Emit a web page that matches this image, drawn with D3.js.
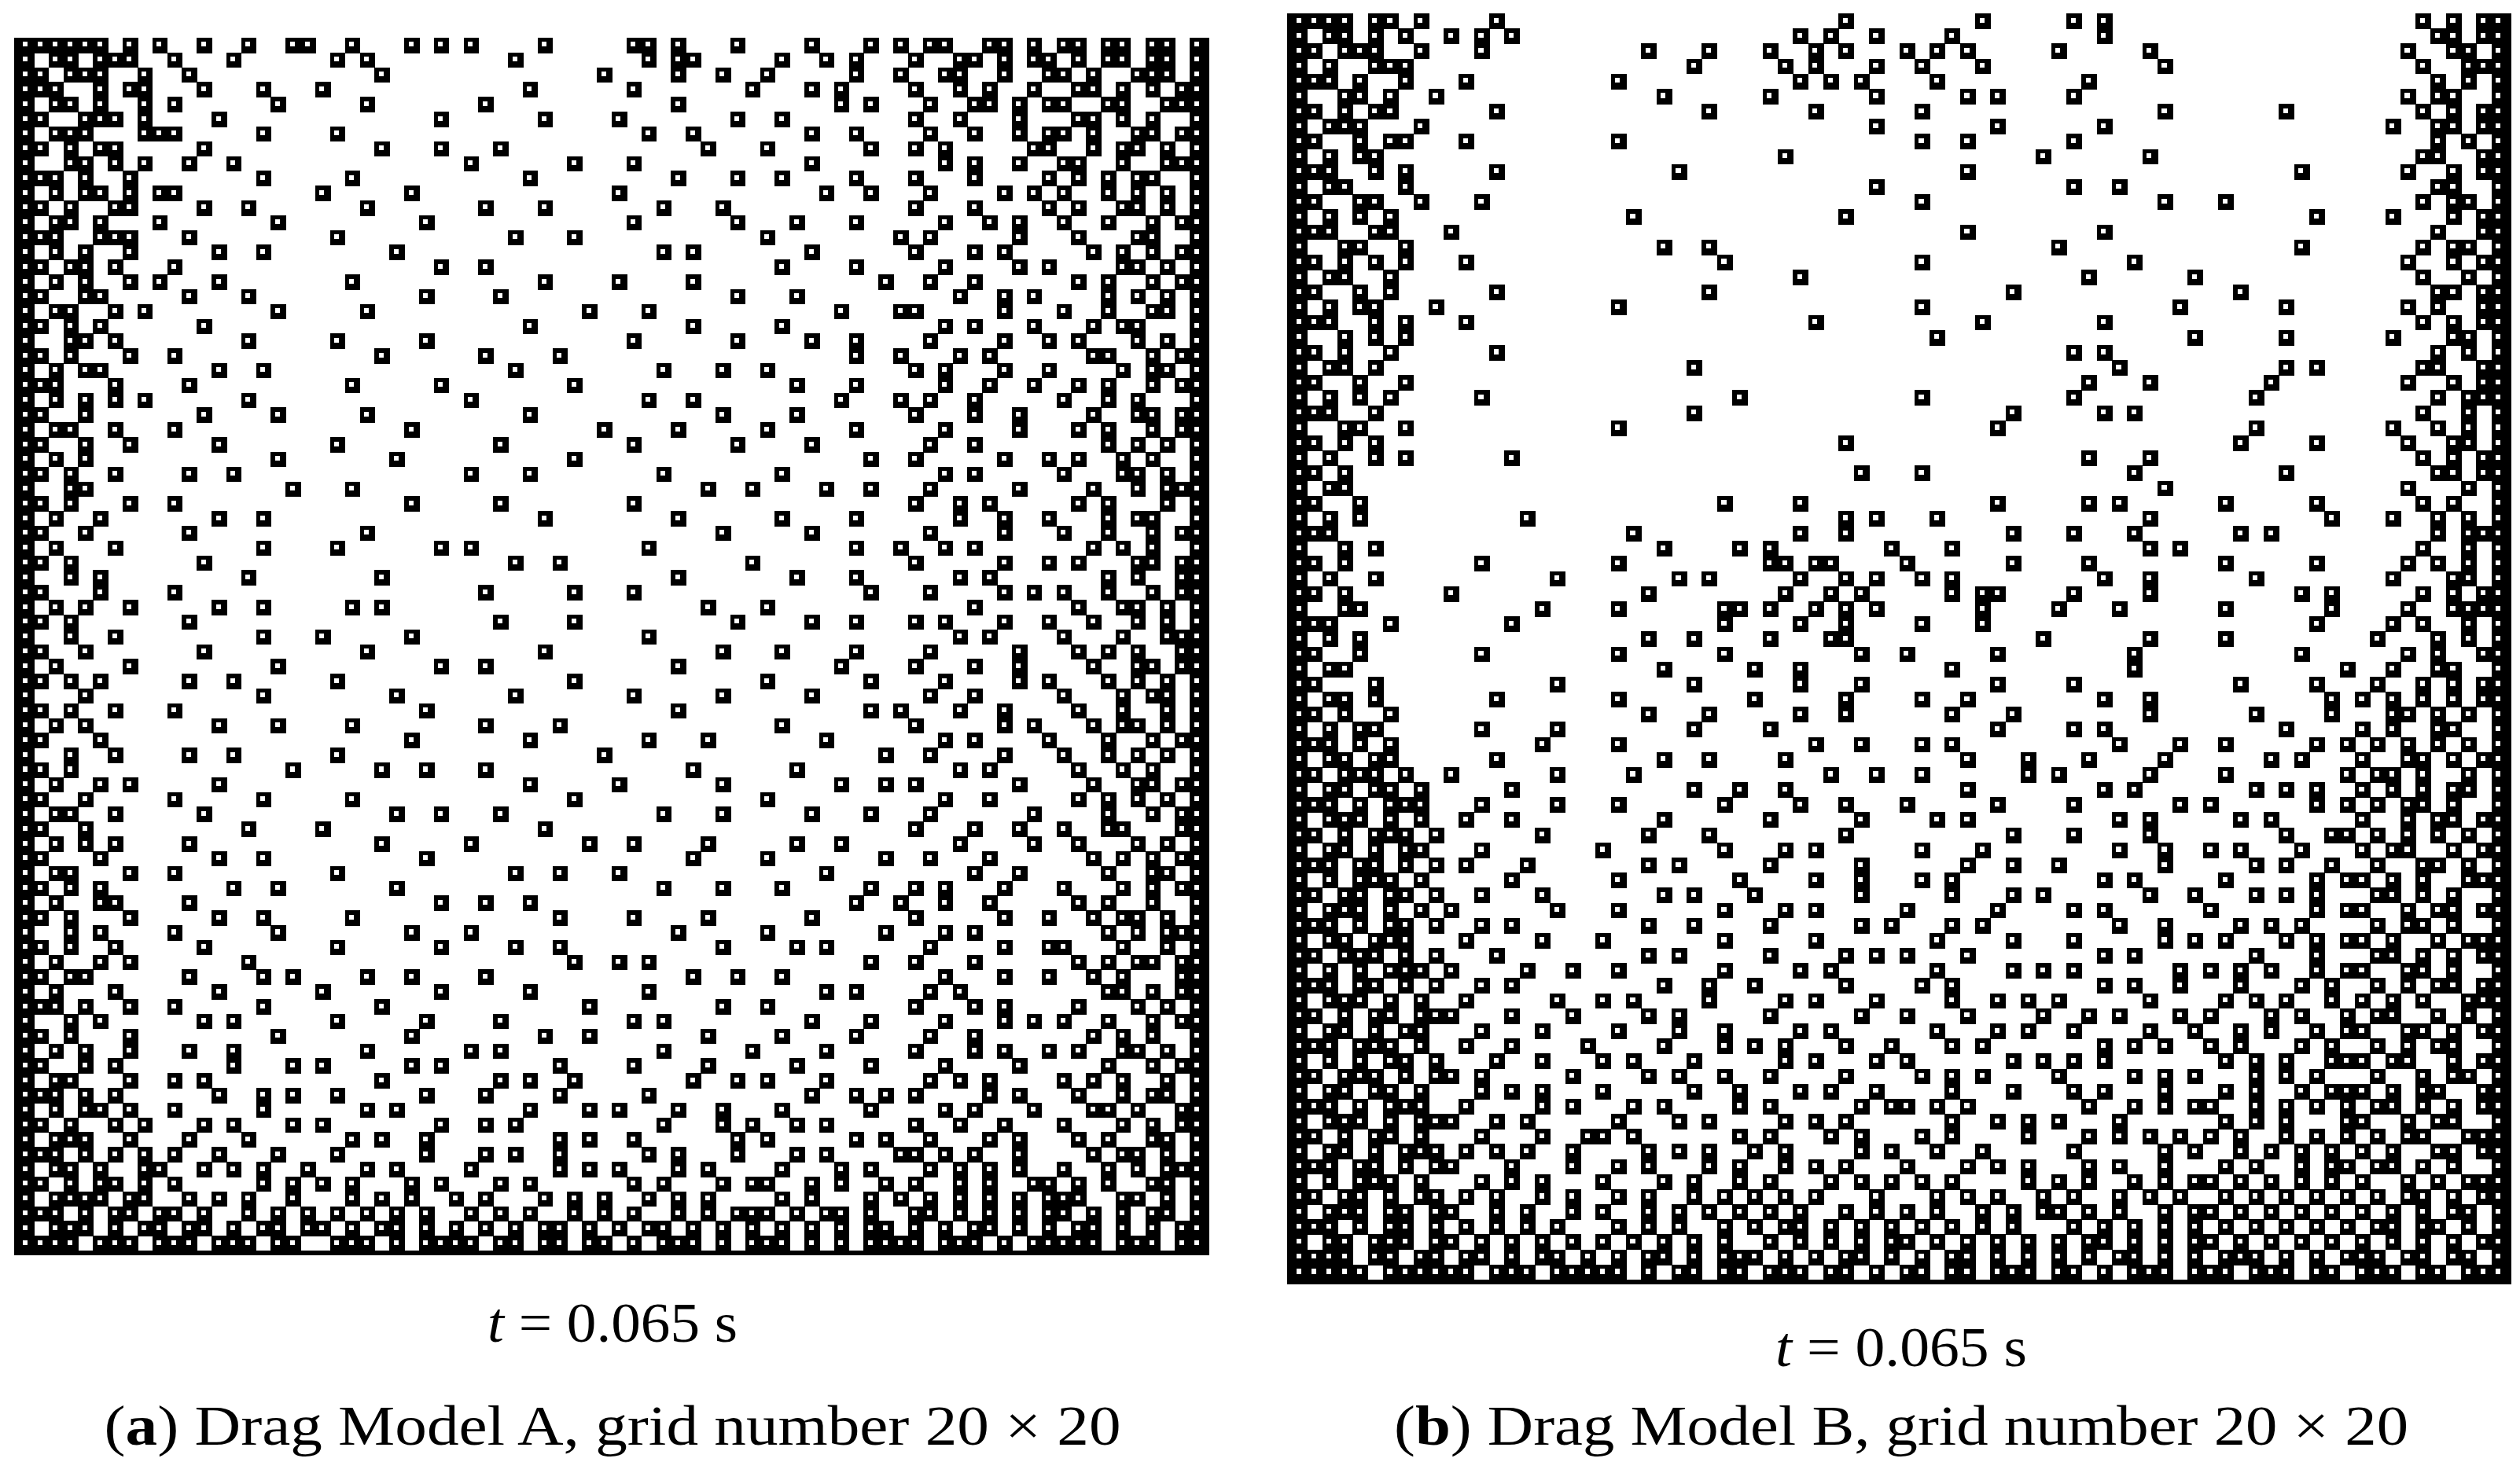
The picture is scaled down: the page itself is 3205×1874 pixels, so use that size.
<!DOCTYPE html>
<html>
<head>
<meta charset="utf-8">
<script src="https://cdnjs.cloudflare.com/ajax/libs/d3/7.8.5/d3.min.js"></script>
<style>
  html, body { margin: 0; padding: 0; background: #fff; }
  svg text { font-family: "Liberation Serif", "DejaVu Serif", serif; fill: #000; }
</style>
</head>
<body>
<div id="chart"></div>
<script>
// particle occupancy maps: 'o' = particle, '.' = empty
// each row is one layer of cells, top to bottom; spaces only group columns by ten
const particlesA = [
"oooooo.o.o ..o..o..oo ..o...o.o. o....o.... .oo.o...o. ...o...o.o .oo..oo.o. oo.oo.oo.o",
"o.oo.ooo.. o...o..... .o.o...... ...o...... ..o.oo.... .o..o.o... o..oo.o.oo .o.oo.oo.o",
"oo.ooo..o. .o........ ....o..... .........o ....o..o.. o.....o..o ..oo..o..o o.o..ooo.o",
"ooo..o.oo. ..o...o... o......... ....o..... .o.......o ...o.o.... o..o.o..o. .oo.o.o.oo",
"o.oo.o..o. o......o.. ...o...... .o........ ....o..... .....o.o.. .o..oo.o.o o..oo..ooo",
"oo..ooo.o. ...o...... ........o. .....o.... o.......o. .o........ o..o...o.. .oo.o.o..o",
"o.ooo...oo o.....o... .o........ .......... ..o..o.... ...o..o... .o..o..o.o o.o..oo.oo",
"oo.o.oo... ..o....... ....o...o. ..o....... ......o... o......o.. o.o.....oo ..o.oo.o.o",
"o..oo.o.o. .o..o..... .......... o......o.. .o........ ...o...... ..o.o..o.. oo..o..ooo",
"ooo.o..o.. ......o... ..o....... ....o..... ....o...o. .o....o... o...o....o .o.o.oo..o",
"o.o.oo.o.o o......... o.....o... .......... o......... ....o..o.. .o....o.o. o..o.o.o.o",
"oo.o..oo.. ..o..o.... ...o...... .o...o.... ...o...o.. .......... o...o....o .o..oo.o.o",
"o.oo.o...o .......o.. .......o.. .......... .o......o. ..o...o... ..o..o.o.. o..o..o.oo",
"ooo..ooo.. .o........ .o........ ...o...o.. .......... o........o .o.....o.. .o...oo..o",
"o.o.o..o.. ...o..o... .....o.... .......... ...o.o.... ...o...... o...o.o... ..o.o.o.oo",
"oo.oo.o... o......... ........o. .o........ .......... .o....o... ..o....o.o ....oo.o.o",
"o.o.o..o.o ...o...... ..o....... .....o.... o....o.... ........o. .o..o..... .o.o..o.oo",
"oo..oo.... .o...o.... .......o.. ..o....... ........o. ..o....... ...o..o.o. ...o.o.o.o",
"o.oo..o.o. .......o.. ...o...... ........o. ..o....... .....o...o o.....o... o..o..oo.o",
"oo.o.o.... ..o....... .......... ....o..... .....o.... .o........ ..o.o...o. ..o.oo...o",
"o..oo.o... .....o.... .o.....o.. .......... .o......o. ...o..o... .o....o..o .o...o.o.o",
"oo.o...o.. o......... ....o..... .o....o... .......... ......o..o ...o.o.... ..oo..o.oo",
"o.o.oo.... ...o..o... .......... ...o...... ...o...o.. o......... o.o...o..o ....o.oo.o",
"ooo...o... .o........ ..o.....o. .......o.. .......... ..o...o... ..o..o..o. .o.o..o.oo",
"o.o.o.o.o. .....o.... .......... o......... ..o..o.... .....o...o .o..o..... o..o.o...o",
"oo..o..... ..o....o.. ...o...... ....o..... .......o.. ..o....... o...o..o.. ..o..oo.oo",
"o.oo..o... o......... ......o... .........o ....o..... o.....o... ..o....o.. .o.o..o.oo",
"oo..o..o.. ...o...... .o........ ..o....... .o......o. ...o...... .o..o..... ...o.o.o.o",
"o.o.o..... .......o.. .....o.... .......o.. .......... .......o.. o.....o..o .o..o.o..o",
"oo.o..o... .o..o..... .......... o...o..... ...o...... .o........ ..o.o..... o...oo.o.o",
"o..oo..... ........o. ..o....... .......... ......o..o ....o..o.. .o.....o.. ..o..o.ooo",
"oo.o...o.. o......... ......o... ..o....... .o........ .......... o..o.o.... .o.o...o.o",
"o.o..o.... ...o..o... .......... .....o.... ....o..... .o....o... ...o..o..o ...o.oo..o",
"oo..o..... .o........ ...o...... .......... .......o.. ...o...... .o....o... o..o..o.oo",
"o.o...o... ......o... .o......o. o......... ..o....... ......o..o ..o.o..... ..o.o.o..o",
"oo.o...... ..o....... .......... ...o..o... .........o .......... o.....o..o .o...oo.oo",
"o..o.o.... .....o.... ....o..... .......... ....o..... ..o...o... ...o.o.... ...o.o..oo",
"oo...o.... o......... .......... .o.....o.. .o........ .......o.. .o....o.o. o..o..o.oo",
"o.o.o..o.. ...o..o... ..o.o..... .......... ......o... o......... ....o..... .o..oo.o.o",
"oo.o...... .o........ .......... ..o....o.. ........o. ...o..o... o.o...o..o ..o..o.o.o",
"o..o..o... ......o... o.....o... .......... ..o....... .......... ...o.o.... o...o..ooo",
"oo..o..... ..o....... ...o...... .....o.... .......o.. .o....o... .o.....o.. .o.o.o..oo",
"o.o....o.. .......o.. ........o. .o........ ....o..... .....o.... o...o..o.. ..o..oo.oo",
"oo.o.o.... .o..o..... .o........ .......o.. .......... o......o.. ..o....o.o ...o.o.o.o",
"o...o..... ......o... .....o.... ...o...... .o.....o.. ...o...... .o..o..... o...o.oo.o",
"oo.o..o... o......... .......o.. .......... ....o..... .......o.o ...o..o... .o..o..o.o",
"o.o.o..... ...o...o.. ..o....... .o....o... .......... .o........ o.....o.o. ..o.oo.o.o",
"oo...o.... .......... ......o... ....o..... ..o...o... ....o..... ..o.o....o ...o..o.oo",
"o..o..o... .o..o..... .o........ .........o .......... ........o. .o....o... o..o.o.o.o",
"oo.o...... ........o. ....o..o.. .o........ .....o.... ..o....... ...o.o.... .o..o.o..o",
"o.o..o.o.. ...o...... .......... ....o..... o......o.. .....o..o. o......o.. ..o..oo.oo",
"oo..o..... o.....o... ..o....... .......o.. .......... o......... ..o..o.... .o.o.o.o.o",
"o.oo..o... ..o....... .....o..o. ..o....... ...o...o.. ...o...o.. .o......o. ...o..o.oo",
"oo..o..... .....o.... o......... .....o.... .......... .......... o...o..o.. o..oo...oo",
"o.o.o.o... .o........ ....o..... o.......o. .o....o... ..o..o.... ...o....o. .o...o.o.o",
"oo...o.... ...o..o... .......o.. .......... .....o.... o.......o. .o...o.... ..o.o.o.oo",
"o.oo...o.. o......... .o........ ...o..o... o......... ....o..... ....o..o.. ...o..oo.o",
"oo.o.o.... ....o..o.. .....o.... .......... ...o...o.. .o.....o.. o.o...o... o...o.o.oo",
"o.o..oo... .o........ ........o. .o..o..... .......... ......o..o ..o..o.... .o.o..o..o",
"oo.o...o.. ...o..o... ..o....... ......o... .o....o... ...o...... o.....o..o ..o.oo.o.o",
"o..o.o.... o......o.. ......o... o......... ....o..... o.......o. ..o.o..... ...o.o.ooo",
"oo.o..o... ..o....... .o......o. ...o..o... .......o.. ..o.o..... .o....o..o o...o..o.o",
"o.o..o.o.. .....o.... .......... .......o.. o.o....... .......o.. o...o..... .o.o.oo.oo",
"oo.oo..... .o....o.o. ...o..o... .o........ .....o..o. .o........ ..o...o..o ..o.o...oo",
"o.o...o... ...o...... o.......o. ....o..... ..o....... ....o.o... .o.o...... ...oo.o.oo",
"ooo.o..o.. o.....o... ....o..... ........o. .......o.. o......... o...o.o... .o...o.o.o",
"o..o.o.... ..o.o..... .o.....o.. ..o....... .o.o...... ...o...o.. ..o...o.o. o..o..o.oo",
"oo.o...o.. .......o.. ......o... .....o..o. ......o... .o....o... .o..o..... ..o.o.o..o",
"o.o.o..o.. .o..o..... ...o...... o.o....... ...o.....o ....o..... o...o.o..o .o..oo.o.o",
"oo..o.o... ....o...o. o.....o.o. ......o... .o....o... ..o....o.. ..o....o.. ...o..o.oo",
"o.oo...o.. o.o....... ....o..... ..o.o..o.. .....o..o. o...o..... .o.o.o.... o.o.o..o.o",
"ooo.o.o... ...o..o.o. .o.....o.. .o....o... ..o....... ...o..o.o. o....o.o.. .o..o.oo.o",
"o.o.oo.o.. o.....o... ...o.o.... ....o...o. o...o..o.. .o.....o.. ..o.o...o. ..oo.o..oo",
"oo.o..o.o. ..o.o...o. o.......o. .o.o...... ...o...o.o ..o.o..... o..o..o... o...o.o.oo",
"o.ooo..o.. .o...o.... ..o.o..o.. ......o.o. .o......o. o.....o.o. .o...o.o.. .o.o..oo.o",
"ooo.o.o.o. o..o...o.. .o.....o.. .o.o..o... ..o.o...o. ..o.o....o o.o.o..o.. ..o.oo.o.o",
"o.oo.o..oo ..o.o.o..o ...o.o.... o.....o.o. o...o.o... .o...o.o.. .o.o.o.o.. o..o.o.ooo",
"oo.o.oo.o. o.....o.o. o.o...o.o. ..o.o..... .o.o...o.o o..o.o..o. o..o.o..oo .o.o..oo.o",
"o.oooo.oo. .o.o.o..o. ..o.o.o..o .o...o.o.o ..o.o.o... .o.o...o.o .o.o.o.o.o oo..oo.o.o",
"ooo.o.oo.o o.o..o.o.o .o.o.o.o.. o.o.o..o.o .o..o.o.oo o.o.oo.o.. oo.o.o.o.o o.o.o.oo.o",
"o.ooo.o.oo .oo.o.oo.o o.o.oo.o.o .o.o.oo.o. o.oo.o.o.o .o.o.o.oo. o.o.oo.o.o .oo.o.o.oo",
"oooo.ooo.o oo.ooo.oo. .ooo.o.ooo o.oo.oo.oo .o.ooo.o.o oo.o.o.ooo o.ooo.o.oo ooo.ooo.oo"
];

const particlesB = [
"oooo.oo.o. ...o...... .......... ......o... .....o.... .o.o...... .......... ....o.o.oo",
"o.oo.o.o.. o.o.o..... .......... ...o.o..o. ...o...... ...o...... .......... .....oo.oo",
"oo.ooo..o. ..o....... ...o...o.. .o..o.o... o.o.o..... o.....o... .......... ...o..oo.o",
"o.o..ooo.. .......... ......o... ..o.o...o. .o...o.... .......o.. .......... ....o..ooo",
"ooo.o..o.. .o........ .o........ ...o.o.o.. ..o....... ..o....... .......... .....o.o.o",
"o..oo.o..o .......... ....o..... .o......o. ....o.o... .o........ .......... ...o.oo..o",
"oo.o.oo... ...o...... .......o.. ....o..... .o........ .......o.. .....o.... ....o.o.oo",
"o.ooo...o. .......... .......... ........o. ......o... ...o...... .......... ..o..oo.oo",
"oo..o.oo.. .o........ .o........ .......... .o..o..... .o........ .......... .....o.o.o",
"o.o.oo.... .......... .......... ..o....... .........o ......o... .......... ....oo..oo",
"ooo..o.o.. ...o...... .....o.... .......... ....o..... .......... ......o... ...o..o.oo",
"o.oo...o.. .......... .......... ........o. .......... .o..o..... .......... .....oo..o",
"oo..oo..o. ..o....... .......... .......... .o........ .......o.. .o........ ....o.oo.o",
"o.o.o.o... .......... ..o....... ......o... .......... .......... .......o.. ..o...o.oo",
"ooo..oo... o......... .......... .......... ....o..... ...o...... .......... .....o..oo",
"o..oo..o.. .......... ....o..o.. .......... .......... o......... ......o... ....o.oo.o",
"oo.o.o.o.. .o........ ........o. .......... .o........ .....o.... .......... ...o..o.oo",
"o.oo..o... .......... .......... ...o...... .......... ..o......o .......... ....o..o.o",
"oo..o.o... ...o...... .......o.. .......... .......o.. .......... ..o....... .....oo.oo",
"o.o.oo...o .......... .o........ .......... .o........ ........o. .....o.... ...o.o..oo",
"ooo..o.o.. .o........ .......... ....o..... .....o.... ...o...... .......... ....o.o.oo",
"o..o.o.o.. .......... .......... .......... ..o....... .........o .....o.... ..o...oo.o",
"oo.o..o... ...o...... .......... .......... .......... .o.o...... .......... .....o.o.o",
"o.oo.o.... .......... ......o... .......... .......... ....o..... .....o.o.. ....oo..oo",
"oo..o..o.. .......... .......... .......... .......... ..o...o... ....o..... ...o..o.oo",
"o.o.o.o... ..o....... .........o .......... .o........ .o........ ...o...... .....o.ooo",
"ooo..o.... .......... ......o... .......... .......o.. ...o.o.... .......... ....o..o.o",
"o..oo..o.. .......... .o........ .......... ......o... .......... ...o...... ..o..o.o.o",
"oo.o.o.... .......... .......... ......o... .......... .......... ..o....o.. ...o..oo.o",
"o.o..o.o.. ....o..... .......... .......... .......... ..o...o... .......... ....o.o.oo",
"oo.o...... .......... .......... .......o.. .o........ .....o.... .....o.... .....oo.oo",
"o.oo...... .......... .......... .......... .......... .......o.. .......... ...o...o.o",
"oo..o..... .......... ........o. ...o...... ......o... ..o.o..... .o.....o.. ....o.o..o",
"o.o.o..... .....o.... .......... ......o.o. ..o....... ......o... ........o. ..o..o.o.o",
"ooo....... .......... ..o....... ...o..o... .......o.. .o...o.... ..o.o..... .....o.ooo",
"o..o.o.... .......... ....o....o .o.......o ...o...... ......o.o. .......... ....o..o.o",
"oo.o...... ..o....... .o........ .oo.oo.... o......o.. ..o....... .o.....o.. ...o.o.o.o",
"o.o..o.... .......o.. .....o.o.. ...o..o.o. .o.o...... ...o..o... ...o...... ..o...oo.o",
"oo.o...... o......... ...o...... ..o..o.o.. ...o.oo... .o....o... ......o.o. ....o.o.oo",
"o..oo..... ......o... .o......oo .o..o.o.o. .....o.... o...o..... .o......o. ...o..oooo",
"ooo...o... ....o..... ........o. ...o..o... .o...o.... .......... .......o.. ..o.o..o.o",
"o.o.o..... .......... ...o..o... .o...oo... .........o ......o... .o........ .o...o.o.o",
"oo..o..... ..o....... .o......o. .......o.. o.....o... .....o.... ......o... ...o.o..oo",
"o.oo...... .......... ....o..... o..o...... ...o...... .....o.... .........o ..o..oo..o",
"oo...o.... .......o.. ......o... ...o...o.. ......o... .o........ ..o....o.. .o..o.o.oo",
"o.oo.o.... ...o...... .o........ o.....o... .o..o..... ...o..o... ........o. o.o.o.o.oo",
"oo.o..o... .......... ...o...o.. ...o..o... ...o...o.. ......o... ...o....o. ..oo.o.o.o",
"o.o.oo.... ..o....o.. ......o... .o........ ......o... .o.o...... .....o.... o.o..oo..o",
"ooo.o.o... ......o... .o........ ....o..o.. .o.o...... ....o...o. .o.....o.o .o.o.o.o.o",
"o.oo.oo... ...o...... ....o..o.. ..o....... ....o...o. ..o....o.. ....o.o... o..oo.o.oo",
"oo.ooo.o.. o......o.. ..o....... .....o..o. .o......o. o.....o... .o.......o .oo.o..o.o",
"o.oo.oo.o. ....o..... ......o..o ..o....... ....o..... ...o.o.... ...o.o.o.. o.o.o.oo.o",
"ooo.o.ooo. ..o....o.. .o......o. ...o..o... o.....o... .o......o. o......o.o .o.oo.o..o",
"o.ooo.o.o. .o..o..... ....o..... .o.....o.. ..o.o..... ....o.o... ..o.o..... o..o.oo.oo",
"oo.o.ooo.o ......o... ...o...o.. ......o... .......o.. .o....o... .....o..oo .o.o.o.o.o",
"o.oo.o.oo. ..o....... o.......o. ..o.o..... .o...o.... ....o..o.. o.o...o... o.oo..o.oo",
"ooo.oo.o.o .o...o.... ...o.o.... .o.....o.. ....o..o.. o......o.. ...o.o..o. .o..oo.o.o",
"o.o.ooo.o. ....o..... .o.......o ....o..o.. .o.o...... ...o.o.... .o.....o.o o.o.o..ooo",
"oo.oo.oo.o ..o...o... ....o.o... o......o.. ...o...o.o ......o..o ...o.o.o.. .oo.o.o..o",
"o.ooo.o.o. o......o.. .o......o. ..o.o..... o.....o... .o.o...... o......o.o o..o.oo.oo",
"ooo.o.oo.o ..o.o..... ...o..o... .o.....o.o ...o.o.... ....o..o.. ..o.o.o... .o.oo.o..o",
"o.oo.ooo.. .o....o... o.......o. ....o..... ..o....o.. .o.....o.o .o...o.o.o o.o..o.ooo",
"oo.ooo.o.o ...o...... ...o.o.... .o....o.o. o...o..... ...o.o.... ...o...o.. .oo.o.o.oo",
"o.o.o.ooo. o....o..o. .o......o. ...o.o.... ..o....o.o .o......o. o.o.o..o.o o..oo.o..o",
"ooo.oo.o.o ..o.o..... ....o..o.. o.....o... .o.o...... ...o.o..o. ..o...o.o. .o.o.oo.oo",
"o.ooo.o.o. .o.....o.. o.o....o.. ..o.o...o. ...o..o.o. o.....o... .o.o.o..o. o.o.o..ooo",
"oo.o.oo.oo o...o...o. ...o.o.... .o.....o.. o...o....o ..o.o...o. o...o.o..o .oo..o.o.o",
"o.oo.o.oo. ..o...o... .o...o..o. ...o.o.... ..o...o.o. .o....o..o ..o.o..o.o o..oo.o.oo",
"ooo.ooo.o. .o..o....o ....o...o. o.o...o..o ...o.o.... ...o.o.o.. o.o...o.o. .o.o.oo..o",
"o.o.o.oo.o ...o..o... o.o...o... ..o.o...o. o......o.o .o.o...... .o.o.o..oo o.oo..o.oo",
"oo.ooo.o.o o.o.....o. ...o.o..o. .o....o... .o.o.o.... o....o.o.o ...o.o.o.. .o..o.oo.o",
"o.oo.oo.o. ..o.o.o... o.....o..o ...o.o..o. ...o...o.. .o.o...o.. .o.o..o.oo o.o.oo..oo",
"ooo.o.ooo. .o....o.o. ..o.o....o .o.....o.o o.o.o..... ..o..o.o.o o..o.o.o.o .oo.o.o.oo",
"o.ooo.o.oo o..o.o.... .o...o.o.. ..o.o.o... ...o..o.o. o...o..... .o.o.o...o o..o.oo..o",
"oo.o.oo.o. ..o...o..o o.o......o .o...o.o.. .o.o....o. ..o.o.o.o. o.o..o.o.o .o.oo..ooo",
"o.oo.o.ooo .o.o.o..o. ...o.o.o.. o.o....o.o ..o..o.... .o.....o.o ..o.o.o.o. o.o..oo.oo",
"ooo.oo.o.o o...o...o. .o.o...o.o ..o.o.o... o...o.o.o. ..o.o..o.. .o.o..o.oo .oo.o.o..o",
"o.o.ooo.o. ..o.o.o... o...o.o..o .o...o.o.o .o.o....o. o.o..o.o.o o.o.o.o.o. o..o.o.ooo",
"oo.oo.o.oo .o.o..o.o. .o.o..o.o. o.o.o...o. ..o.o.o..o .o..o.o.o. .o.o.o.o.o .o.oo.o.oo",
"o.ooo.oo.o o..o.o..o. o..o.o.o.o .o.o..o.o. o.o..o.o.o o.o.o..o.o o.o.o.o.o. o.o.o.oo.o",
"ooo.o.oo.o .o.o.o.o.. .o.o.o..o. o.oo.o.o.o .o.o.o.o.. .o.o.o.o.o .o.o.o.o.o .oo.oo.o.o",
"o.oo.ooo.o o.o.o.o.o. o.o.o.o.o. .o.o.o.o.o o.o.o.o.o. o.oo.o.o.o o.o.o.o.o. o.o.o.o.oo",
"oooo.oo.oo .oo.o.oo.o .o.oo.o.oo o.o.o.oo.o .o.oo.o.o. o.o.oo.o.o .ooo.o.o.o oo.oo.oo.o",
"ooooo.oooo oo.ooo.ooo oo.o.oo.oo .ooo.oo.o. oo.oo.ooo. oo.o.ooo.o oo.ooo.oo. ooo.oo.ooo"
];

const timeLabels = ["0.065", "0.065"];
const panelTags = ["a", "b"];
const panelTitles = [" Drag Model A, grid number 20 × 20", " Drag Model B, grid number 20 × 20"];

function toPoints(rows) {
    const pts = [];
    rows.forEach((row, r) => {
        row.replace(/ /g, "").split("").forEach((ch, c) => {
            if (ch === "o") pts.push({ c: c, r: r });
        });
    });
    return pts;
}

const W = 3205, H = 1874;
const svg = d3.select("#chart").append("svg")
    .attr("width", W)
    .attr("height", H)
    .attr("viewBox", `0 0 ${W} ${H}`);

// box = inner edges of the bed walls, in page pixels
function drawPanel(rows, box, idx, tY, capY, cx, tW, capW) {
    const ncols = d3.max(rows, d => d.replace(/ /g, "").length);
    const nrows = rows.length;
    const pts = toPoints(rows);

    const x = d3.scaleLinear().domain([0, ncols]).range([box.left, box.right]);
    const y = d3.scaleLinear().domain([0, nrows]).range([box.top, box.bottom]);
    const cw = x(1) - x(0), ch = y(1) - y(0);

    const g = svg.append("g");

    // particle bodies
    g.selectAll(".body")
        .data(pts)
        .enter()
        .append("rect")
            .attr("class", "body")
            .attr("x", d => x(d.c))
            .attr("y", d => y(d.r))
            .attr("width", cw + 0.7)
            .attr("height", ch + 0.7)
            .attr("fill", "#000")
            .attr("shape-rendering", "crispEdges");

    // the small white hole in each particle, a bit up and left
    g.selectAll(".hole")
        .data(pts)
        .enter()
        .append("rect")
            .attr("class", "hole")
            .attr("x", d => x(d.c) + cw * 0.29)
            .attr("y", d => y(d.r) + ch * 0.29)
            .attr("width", cw * 0.32)
            .attr("height", ch * 0.32)
            .attr("fill", "#fff")
            .attr("shape-rendering", "crispEdges");

    // walls: left, right, bottom (open top)
    const sw = 6;
    const frame = d3.path();
    frame.moveTo(box.left - sw / 2, box.top);
    frame.lineTo(box.left - sw / 2, box.bottom + sw / 2);
    frame.lineTo(box.right + sw / 2, box.bottom + sw / 2);
    frame.lineTo(box.right + sw / 2, box.top);
    g.append("path")
        .attr("d", frame.toString())
        .attr("fill", "none")
        .attr("stroke", "#000")
        .attr("stroke-width", sw)
        .attr("stroke-linejoin", "miter")
        .attr("shape-rendering", "crispEdges");

    // time label
    const t = g.append("text")
        .attr("x", cx)
        .attr("y", tY)
        .attr("text-anchor", "middle")
        .attr("textLength", tW)
        .attr("lengthAdjust", "spacingAndGlyphs")
        .style("font-size", "72px");
    t.append("tspan").style("font-style", "italic").text("t");
    t.append("tspan").text(` = ${timeLabels[idx]} s`);

    // caption
    const c = g.append("text")
        .attr("x", cx)
        .attr("y", capY)
        .attr("text-anchor", "middle")
        .attr("textLength", capW)
        .attr("lengthAdjust", "spacingAndGlyphs")
        .style("font-size", "72px");
    c.append("tspan").text("(");
    c.append("tspan").style("font-weight", "bold").text(panelTags[idx]);
    c.append("tspan").text(")" + panelTitles[idx]);
}

drawPanel(particlesA, { left: 24, right: 1532, top: 48, bottom: 1591 }, 0, 1707, 1838, 779, 318, 1293);
drawPanel(particlesB, { left: 1643, right: 3188, top: 17, bottom: 1628 }, 1, 1738, 1838, 2418, 320, 1290);
</script>
</body>
</html>
